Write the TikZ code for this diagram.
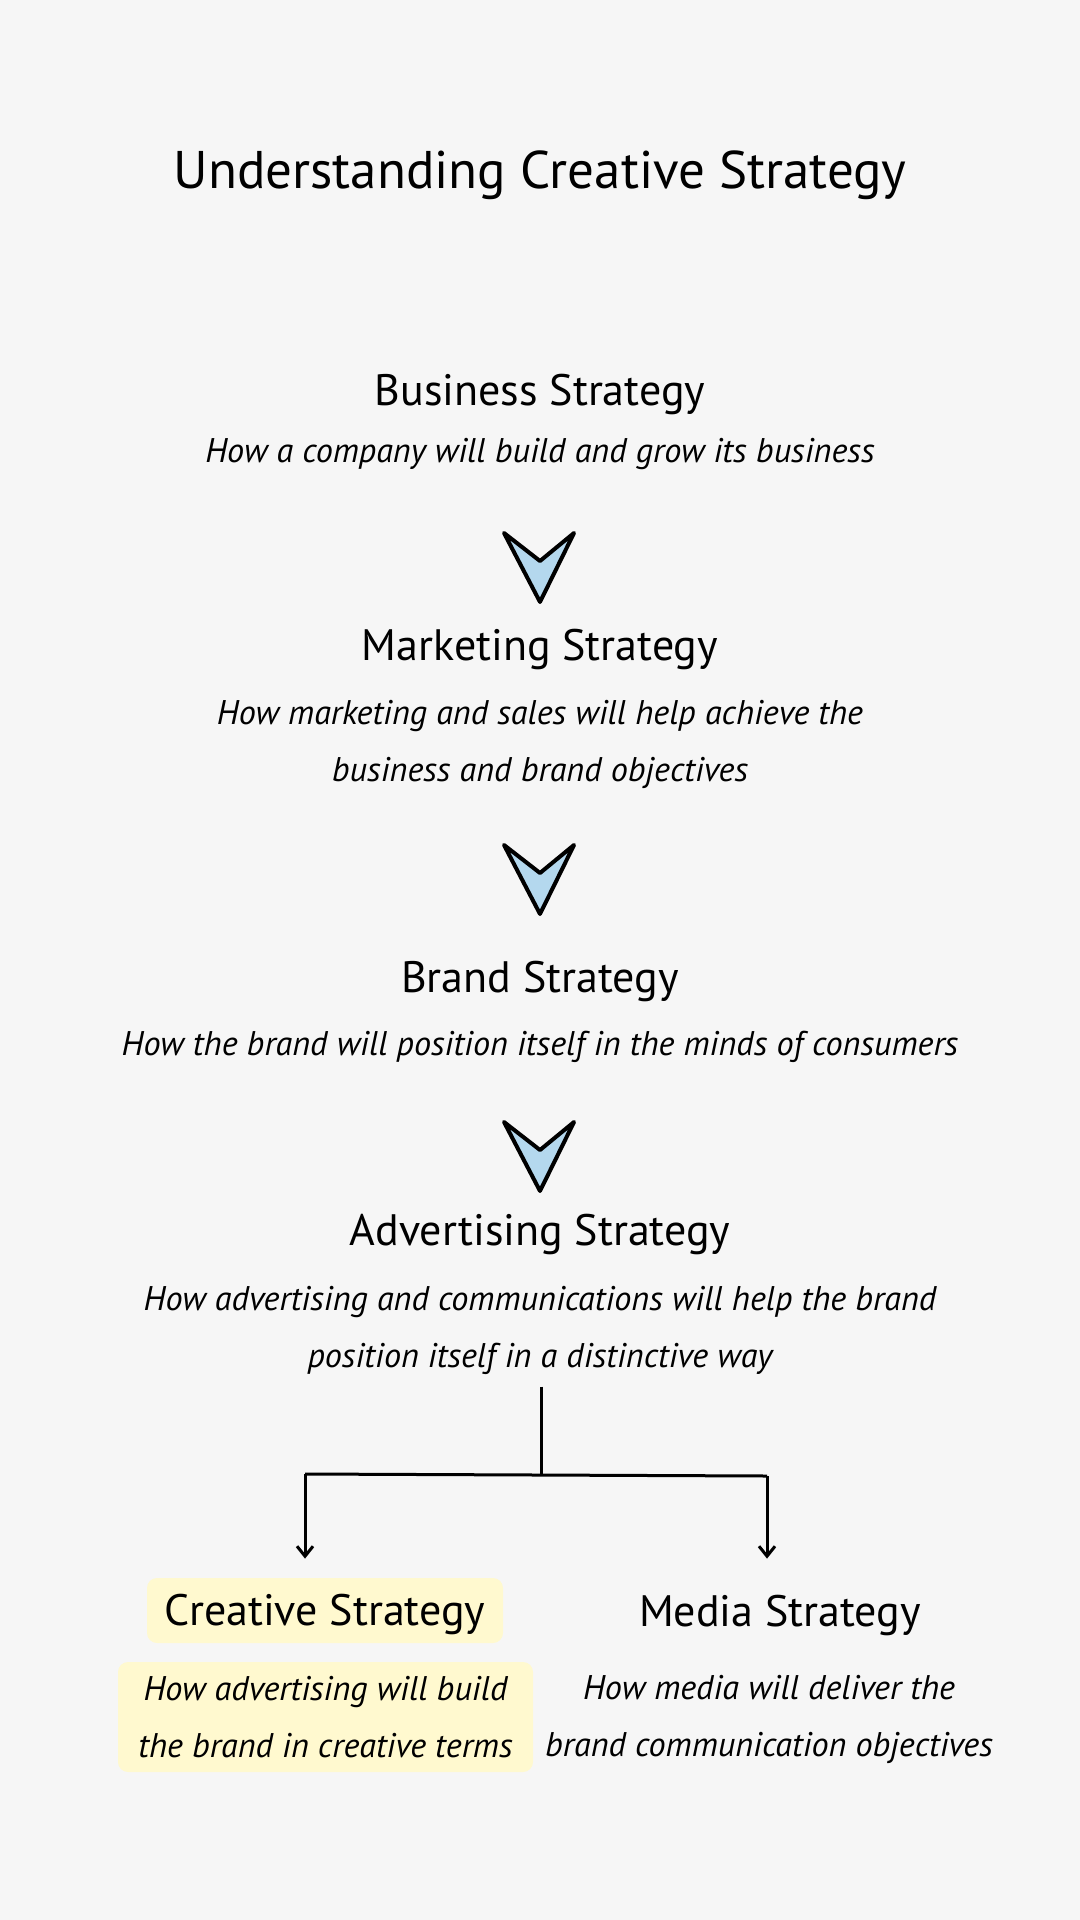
\documentclass[tikz,border=0pt]{standalone}
\usepackage{fontspec}
\setmainfont{PT Sans}
\usetikzlibrary{arrows.meta}

\definecolor{pagegrey}{HTML}{F6F6F6}
\definecolor{chevblue}{HTML}{B4D8EE}
\definecolor{markyellow}{HTML}{FFF9CF}

\begin{document}
\begin{tikzpicture}
    [x=0.5pt, y=-0.5pt,
    every node/.style={inner sep=0pt, text=black},
    maintitle/.style={font=\fontsize{26.5}{32}\selectfont},
    stratname/.style={font=\fontsize{22}{26}\selectfont},
    stratnote/.style={font=\fontsize{17.1}{28.5}\selectfont\itshape, align=center},
    highlight/.style={fill=markyellow, rounded corners=5pt},
    chevron/.style={draw=black, fill=chevblue, line width=2pt, line join=round},
    branch/.style={draw=black, line width=1.5pt},
    branch arrow/.style={branch, -{Straight Barb[length=5pt, width=8pt]}}
    ]
    % page
    \fill[pagegrey] (0,0) rectangle (1080,1920);

    \node (title) at (540,175) [maintitle] {Understanding Creative Strategy};

    % strategy chain
    \node (business) at (540,394) [stratname] {Business Strategy};
    \node (businessnote) at (540,454) [stratnote] {How a company will build and grow its business};

    \node (marketing) at (540,649) [stratname] {Marketing Strategy};
    \node (marketingnote) at (540,744) [stratnote] {How marketing and sales will help achieve the\\business and brand objectives};

    \node (brand) at (540,981) [stratname] {Brand Strategy};
    \node (brandnote) at (540,1047) [stratnote] {How the brand will position itself in the minds of consumers};

    \node (advertising) at (540,1234) [stratname] {Advertising Strategy};
    \node (advertisingnote) at (540,1330) [stratnote] {How advertising and communications will help the brand\\position itself in a distinctive way};

    % chevrons between the levels
    \foreach \y in {533,845,1122}
        \draw[chevron] (504,\y) -- (540,\y+28) -- (574,\y) -- (540,\y+69) -- cycle;

    % the two branches
    \node (creative) at (325,1610.5) [highlight, minimum width=178pt, minimum height=32.5pt] {};
    \node at (creative.center) [stratname, yshift=-2pt] {Creative Strategy};
    \node (creativenote) at (325.5,1717) [highlight, minimum width=207.5pt, minimum height=55pt] {};
    \node at (creativenote.center) [stratnote] {How advertising will build\\the brand in creative terms};
    \node (media) at (780,1615) [stratname] {Media Strategy};
    \node (medianote) at (769,1719) [stratnote] {How media will deliver the\\brand communication objectives};

    \coordinate (split) at (541,1474);
    \coordinate (splitleft) at (305,1474);
    \coordinate (splitright) at (767,1476);
    \draw[branch] (split |- advertisingnote.south) ++(0,12) -- (split);
    \draw[branch] (splitleft) -- (splitright);
    \draw[branch arrow] (splitleft) -- ([yshift=9.5pt]splitleft |- creative.north);
    \draw[branch arrow] (splitright) -- ([yshift=9.5pt]splitright |- creative.north);
\end{tikzpicture}
\end{document}
